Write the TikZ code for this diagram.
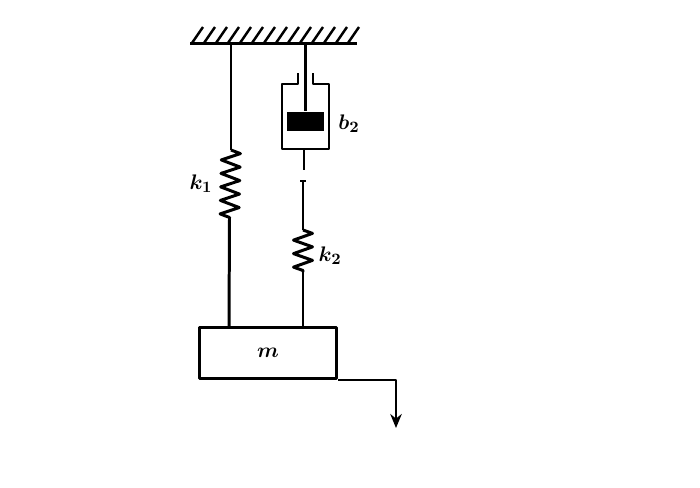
\documentclass[tikz,border=0pt]{standalone}
\usepackage{amsfonts}
\tikzset{thick line/.style = {line width = 1.7pt}}
\tikzset{spring/.style = {thick line, decoration={zigzag, segment length = 0.27cm, amplitude = 0.19cm}, decorate}}
\tikzset{massbox/.style = {draw, thick line, font = \large\boldmath, minimum width = 2.74cm, minimum height = 1.02cm, inner sep = 0}}
\tikzset{piston/.style = {fill, minimum width = 0.75cm, minimum height = 0.38cm, inner sep = 0}}
\tikzset{tag/.style = {font = \fontsize{13}{15}\selectfont\boldmath, inner sep = 0}}
\usetikzlibrary{arrows.meta,
                 decorations.pathmorphing}

\begin{document}
\begin{tikzpicture}[x=.02cm, y=-.02cm, line join=round]
      \useasboundingbox (0, 0) rectangle (700, 487);
      % ceiling
      \coordinate (ceilL) at (190, 43.5);
      \coordinate (ceilR) at (357, 43.5);
      \draw [line width = 2pt] (ceilL) -- (ceilR);
      \foreach \x in {192, 204, ..., 348} {
        \draw [line width = 1.4pt] (\x, 43) -- (\x + 11, 27);
      }
      % mass
      \node [massbox] (mass) at (268, 353) {$m$};
      % left branch
      \coordinate (k1top) at (231, 43.5);
      \coordinate (k1a) at (231, 150);
      \coordinate (k1b) at (229.5, 218);
      \coordinate (k1bot) at (229, 327);
      \draw [thick line] (k1top) -- (k1a);
      \draw [spring] (k1a) -- (k1b);
      \draw [thick line] (k1b) -- (k1bot);
      \node [tag] (k1label) at (201, 184) {$k_1$};
      % damper
      \coordinate (rodtop) at (305.5, 43.5);
      \node [piston] (pist) at (305.5, 121) {};
      \draw [thick line] (rodtop) -- (pist.north);
      \draw [thick line] (298, 73) -- (298, 84) -- (282, 84) -- (282, 149)
            -- (329, 149) -- (329, 84) -- (313, 84) -- (313, 73);
      \node [tag] (b2label) at (349, 124) {$b_2$};
      \coordinate (cylbot) at (304, 149);
      \coordinate (gapA) at (304, 170);
      \coordinate (gapB) at (303, 181);
      \draw [thick line] (cylbot) -- (gapA);
      % right branch
      \coordinate (k2a) at (303, 230);
      \coordinate (k2b) at (303, 272);
      \coordinate (k2bot) at (303, 327);
      \draw [line width = 0.8pt] (300, 181) -- (306, 181);
      \draw [thick line] (gapB) -- (k2a);
      \draw [spring] (k2a) -- (k2b);
      \draw [thick line] (k2b) -- (k2bot);
      \node [tag] (k2label) at (330, 256) {$k_2$};
      % output arrow
      \coordinate (outB) at (396, 428);
      \draw [line width = 1.3pt, -{Stealth[length = 2.8mm, width = 2.3mm]}] (mass.south east) -| (outB);
\end{tikzpicture}
\end{document}
